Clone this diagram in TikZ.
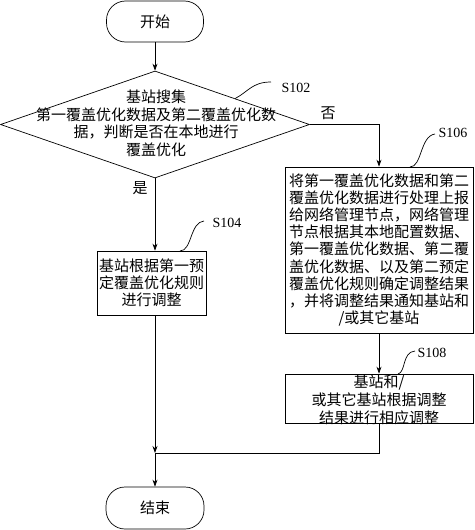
\documentclass[tikz,border=0pt]{standalone}
\usepackage{fontspec}
\setmainfont{Liberation Serif}
\newfontfamily\cjk{Noto Sans CJK SC}
\usetikzlibrary{shapes.geometric,arrows.meta}
\begin{document}
\begin{tikzpicture}[x=1pt,y=-1pt,
  line width=0.7pt,
  arr/.style={-{Stealth[length=7pt,width=5pt]}},
  box/.style={draw, inner sep=0pt, align=center, font=\cjk\fontsize{15}{17.2}\selectfont},
  term/.style={draw, rounded corners=19pt, inner sep=0pt, font=\cjk\fontsize{15}{17}\selectfont},
  txt/.style={align=center, inner sep=0pt, font=\cjk\fontsize{15}{17.5}\selectfont},
  lbl/.style={inner sep=0pt, font=\fontsize{14}{16}\selectfont},
  yn/.style={inner sep=0pt, font=\cjk\fontsize{15}{17}\selectfont}]
\useasboundingbox (0,0) rectangle (474,530);

\node[term, minimum width=97pt, minimum height=41pt] (start) at (155,21.5) {开始};
\node[diamond, draw, minimum width=309pt, minimum height=107pt, inner sep=0pt] (d) at (155,124.5) {};
\node[txt] (dt) at (156,123.5) {基站搜集\\第一覆盖优化数据及第二覆盖优化数\\据，判断是否在本地进行\\覆盖优化};
\node[box, minimum width=109pt, minimum height=64pt] (s104) at (151.5,283) {基站根据第一预\\定覆盖优化规则\\进行调整};
\node[box, minimum width=188pt, minimum height=166pt] (s106) at (379,250) {将第一覆盖优化数据和第二\\覆盖优化数据进行处理上报\\给网络管理节点，网络管理\\节点根据其本地配置数据、\\第一覆盖优化数据、第二覆\\盖优化数据、以及第二预定\\覆盖优化规则确定调整结果\\，并将调整结果通知基站和\\/或其它基站};
\node[draw, minimum width=188pt, minimum height=49pt, inner sep=0pt] (s108) at (379,398.5) {};
\node[txt, font=\cjk\fontsize{15}{18}\selectfont] (s108t) at (379,400) {基站和/\\或其它基站根据调整\\结果进行相应调整};
\node[term, minimum width=98pt, minimum height=42pt] (end) at (155,508) {结束};
\coordinate (m) at (155,453);

\node[yn] (no) at (328,113) {否};
\node[yn] (yes) at (140,188) {是};

\node[lbl] (l102) at (296,88) {S102};
\node[lbl] (l104) at (227,223) {S104};
\node[lbl] (l106) at (453,133) {S106};
\node[lbl] (l108) at (432,353) {S108};

\coordinate (c102a) at (235,98.6);
\coordinate (c102b) at (271,82);
\coordinate (c104a) at (180,251);
\coordinate (c104b) at (204,221);
\coordinate (c106a) at (410,167);
\coordinate (c106b) at (435,134);
\coordinate (c108a) at (398,374);
\coordinate (c108b) at (415,351);

\draw (c102a) .. controls (248,92) and (252,82) .. (c102b);
\draw (c104a) .. controls (192,251) and (190,222) .. (c104b);
\draw (c106a) .. controls (422,167) and (420,136) .. (c106b);
\draw (c108a) .. controls (406,372) and (402,352) .. (c108b);

\draw[arr] (start.south) -- (d.north);
\draw[arr] (d.east) -| (s106.north);
\draw[arr] (d.south) -- (d.south |- s104.north);
\draw[arr] (m |- s104.south) -- (m);
\draw (s108.south) |- (m);
\draw[arr] (m) -- (end.north);
\draw[arr] (s106.south) -- (s108.north);
\end{tikzpicture}
\end{document}
